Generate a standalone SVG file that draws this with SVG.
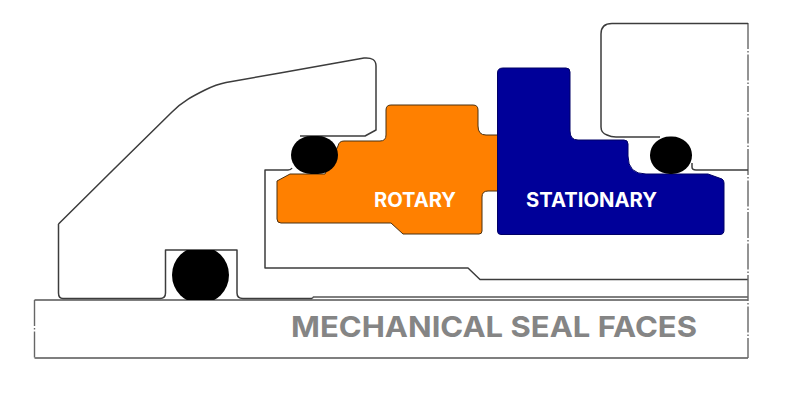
<svg xmlns="http://www.w3.org/2000/svg" width="800" height="400" viewBox="0 0 800 400">
<style>
.l{fill:none;stroke:#3c3c3c;stroke-width:1.5;stroke-linejoin:round}
.c{fill:none;stroke:#666;stroke-width:1.4;stroke-dasharray:26 2 1.500 2}
.s{fill:none;stroke:#555;stroke-width:1.500}
.o{fill:#000}
.t{font-family:"Inter","Liberation Sans",sans-serif;font-weight:700}
</style>
<defs><clipPath id="gland"><rect x="160" y="250" width="80" height="50"/></clipPath></defs>
<rect width="800" height="400" fill="#fff"/>
<g id="connectors">
<path class="l" d="M292 168Q291 170 288 170H265V268H468L480 279.500H748"/>
<path class="s" d="M312 298.500L313.500 297H748"/>
</g>
<g id="shaft">
<path class="s" d="M34.500 300H748M34.500 358H748"/>
<path class="c" d="M34.500 300V358"/>
<path class="c" d="M748 23V358"/>
</g>
<g id="rotating-housing">
<path class="l" d="M58.500 224L113 170L172 112C183 101 193 96 205 90C213 86 218 84 226 82.500L280 73L364 58Q376 57 376 66V130L365 136H300M58.500 224V293Q58.500 298.500 63 298.500H160Q165.500 298.500 165.500 293V250H237V293Q237 298.500 243 298.500H312"/>
</g>
<g id="stationary-housing">
<path class="l" d="M748 23.500H612Q601 23.500 601 34V127Q601 133 607 135Q611 137 616 137H660M692 163V167Q692 170 696 170H748"/>
</g>
<g id="rotary">
<path fill="#ff8000" stroke="#4a3010" stroke-width="1" d="M277 181L290 174H325L338 146Q339 141 344 141H380Q386 141 386 135V110Q386 105 391 105H473Q478 105 478 110V126Q478 135 486 135H498V191H488Q482 191 482 197V231Q482 234 479 234H403L391 223H281Q277 223 277 219Z"/>
<text class="t" x="374" y="207" font-size="19.500" fill="#fff" textLength="82" lengthAdjust="spacingAndGlyphs">ROTARY</text>
</g>
<g id="stationary">
<path fill="#000099" stroke="#000066" stroke-width="1" d="M497.500 73Q497.500 68 503 68H566Q570 68 570 72V131Q570 140 578 140H624Q628 140 628 144V156Q628 174 646 174H708L722 179Q724 180 724 183V230Q724 234.500 720 234.500H501Q497.500 234.500 497.500 231Z"/>
<text class="t" x="526" y="207" font-size="19.500" fill="#fff" textLength="131" lengthAdjust="spacingAndGlyphs">STATIONARY</text>
</g>
<g id="o-ring-left"><rect class="o" x="291" y="136" width="47" height="38" rx="20" ry="19"/></g>
<g id="o-ring-right"><rect class="o" x="650" y="136.500" width="42" height="37.500" rx="20" ry="18.500"/></g>
<g id="o-ring-bottom"><circle class="o" cx="200.500" cy="275" r="28.500" clip-path="url(#gland)"/></g>
<text class="t" x="291" y="337" font-size="29" fill="#858585" textLength="406" lengthAdjust="spacingAndGlyphs">MECHANICAL SEAL FACES</text>
</svg>
